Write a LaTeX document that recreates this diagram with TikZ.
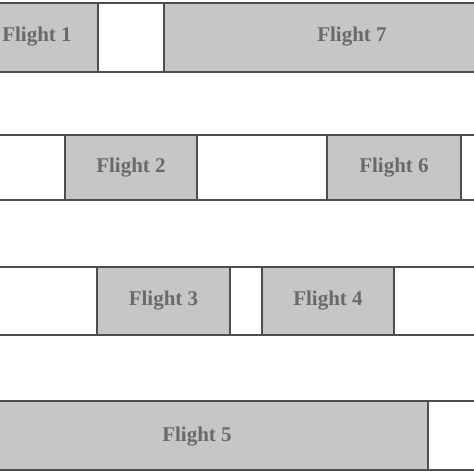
\documentclass[tikz,border=0pt]{standalone}
\usepackage{fontspec}
\setmainfont{Liberation Serif}
\definecolor{barfill}{HTML}{C6C6C6}
\definecolor{barline}{HTML}{4E4E4E}
\definecolor{labelgray}{HTML}{6A6A6A}
\tikzset{
  flight/.style={fill=barfill, draw=barline, line width=1.6pt},
  free/.style={fill=white, draw=barline, line width=1.6pt},
  fname/.style={text=labelgray, font=\fontsize{21}{24}\selectfont\bfseries}
}
\begin{document}
\begin{tikzpicture}[x=1pt, y=-1pt]
            \useasboundingbox (0,0) rectangle (474,474);
            \clip (0,0) rectangle (474,474);
            % row 1
            \draw [flight] (-10,3) rectangle (98,72);
            \node[fname] (f1) at (37,37) {Flight 1};
            \draw [free] (98,3) rectangle (164,72);
            \draw [flight] (164,3) rectangle (540,72);
            \node[fname] (f7) at (352,37) {Flight 7};
            % row 2
            \draw [free] (-10,135) rectangle (65,200);
            \draw [flight] (65,135) rectangle (197,200) node[pos=0.5, fname] (f2) {Flight 2};
            \draw [free] (197,135) rectangle (327,200);
            \draw [flight] (327,135) rectangle (461,200) node[pos=0.5, fname] (f6) {Flight 6};
            \draw [free] (461,135) rectangle (540,200);
            % row 3
            \draw [free] (-10,267) rectangle (97,335);
            \draw [flight] (97,267) rectangle (230,335) node[pos=0.5, fname] (f3) {Flight 3};
            \draw [free] (230,267) rectangle (262,335);
            \draw [flight] (262,267) rectangle (394,335) node[pos=0.5, fname] (f4) {Flight 4};
            \draw [free] (394,267) rectangle (540,335);
            % row 4
            \draw [flight] (-10,401) rectangle (428,470);
            \node[fname] (f5) at (197,437) {Flight 5};
            \draw [free] (428,401) rectangle (540,470);
        \end{tikzpicture}
\end{document}
